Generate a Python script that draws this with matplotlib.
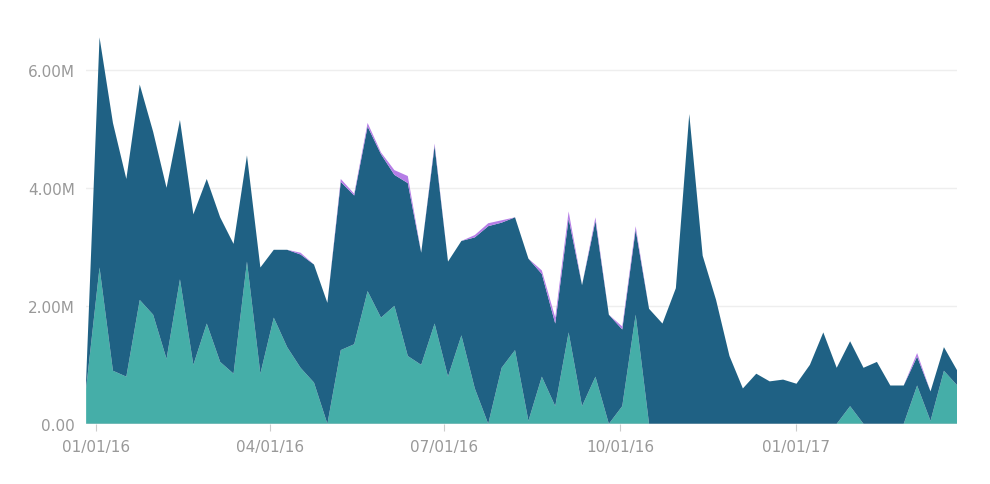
import matplotlib
matplotlib.use("Agg")
import matplotlib.pyplot as plt
import matplotlib.dates as mdates
import numpy as np
import datetime as dt

start = dt.date(2015, 12, 27)
dates = [start + dt.timedelta(weeks=i) for i in range(66)]

total = [0.75, 6.55, 5.1, 4.15, 5.75, 4.95, 4.0, 5.15, 3.55, 4.15, 3.5, 3.05, 4.55, 2.65, 2.95, 2.95,
         2.9, 2.7, 2.05, 4.15, 3.9, 5.1, 4.6, 4.3, 4.2, 2.9, 4.75, 2.75, 3.1, 3.2, 3.4, 3.45,
         3.5, 2.8, 2.6, 1.8, 3.6, 2.35, 3.5, 1.85, 1.65, 3.35, 1.95, 1.7, 2.3, 5.25, 2.85, 2.1,
         1.15, 0.6, 0.85, 0.72, 0.75, 0.68, 1.0, 1.55, 0.95, 1.4, 0.95, 1.05, 0.65, 0.65, 1.2, 0.55,
         1.3, 0.9]
teal = [0.6, 2.65, 0.9, 0.8, 2.1, 1.85, 1.1, 2.45, 1.0, 1.7, 1.05, 0.85, 2.75, 0.85, 1.8, 1.3,
        0.95, 0.7, 0.0, 1.25, 1.35, 2.25, 1.8, 2.0, 1.15, 1.0, 1.7, 0.8, 1.5, 0.6, 0.0, 0.95,
        1.25, 0.05, 0.8, 0.3, 1.55, 0.3, 0.8, 0.0, 0.3, 1.85, 0.0, 0.0, 0.0, 0.0, 0.0, 0.0,
        0.0, 0.0, 0.0, 0.0, 0.0, 0.0, 0.0, 0.0, 0.0, 0.3, 0.0, 0.0, 0.0, 0.0, 0.65, 0.05,
        0.9, 0.65]
purple = [0.0]*66
for i, v in {16: 0.03, 19: 0.05, 20: 0.03, 21: 0.06, 22: 0.03, 23: 0.08, 24: 0.12, 26: 0.04,
             29: 0.04, 30: 0.05, 31: 0.04, 34: 0.06, 35: 0.1, 36: 0.12, 38: 0.06, 40: 0.05,
             41: 0.06, 62: 0.06}.items():
    purple[i] = v

teal_a = np.array(teal) * 1e6
purple_a = np.array(purple) * 1e6
dark_a = np.array(total) * 1e6 - teal_a - purple_a

fig = plt.figure(figsize=(9.9, 4.85), dpi=100)
ax = fig.add_axes([0.087, 0.124, 0.880, 0.803])
ax.stackplot(dates, teal_a, dark_a, purple_a,
             colors=["#45aea8", "#1f6184", "#b57de6"], linewidth=0)
ax.set_ylim(0, 6.6e6)
ax.set_xlim(dates[0], dates[-1])
ax.set_yticks([0, 2e6, 4e6, 6e6])
ax.set_yticklabels(["0.00", "2.00M", "4.00M", "6.00M"])
ax.set_xticks([dt.date(2016, 1, 1), dt.date(2016, 4, 1), dt.date(2016, 7, 1),
               dt.date(2016, 10, 1), dt.date(2017, 1, 1)])
ax.xaxis.set_major_formatter(mdates.DateFormatter("%m/%d/%y"))
ax.grid(axis="y", color="#eeeeee", linewidth=1)
ax.set_axisbelow(True)
for s in ax.spines.values():
    s.set_visible(False)
ax.tick_params(axis="y", length=0, colors="#999999", labelsize=11, pad=8)
ax.tick_params(axis="x", length=5, color="#cccccc", colors="#999999", labelsize=11, pad=6)
ax.axhline(0, color="#cccccc", linewidth=1, zorder=3)
fig.savefig("out.png", dpi=100)
